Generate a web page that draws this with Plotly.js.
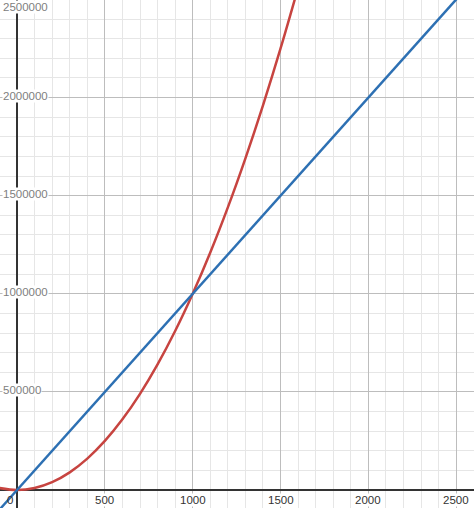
<!DOCTYPE html>
<html>
<head>
<meta charset="utf-8">
<script src="https://cdn.plot.ly/plotly-3.0.1.min.js"></script>
<style>
html,body{margin:0;padding:0;background:#fff;}
#chart{width:474px;height:508px;}
</style>
</head>
<body>
<div id="chart"></div>
<script>
// Red curve (y = x^2) points
var redX = [-100, 0, 100, 200, 300, 400, 500, 600, 700, 800, 900, 1000, 1100, 1200, 1300, 1400, 1500, 1600];
var redY = [10000, 0, 10000, 40000, 90000, 160000, 250000, 360000, 490000, 640000, 810000, 1000000, 1210000, 1440000, 1690000, 1960000, 2250000, 2560000];
// Blue line points
var blueX = [-100, 0, 500, 1000, 1500, 2000, 2500, 2600];
var blueY = [-100000, 0, 500000, 1000000, 1500000, 2000000, 2500000, 2600000];
// Tick labels
var xTickVals = [0, 500, 1000, 1500, 2000, 2500];
var xTickText = ["0", "500", "1000", "1500", "2000", "2500"];
var yTickVals = [500000, 1000000, 1500000, 2000000, 2500000];
var yTickText = ["500000", "1000000", "1500000", "2000000", "2500000"];

var xRange = [-96.8, 2601];
var yRange = [-91700, 2497000];
var H = 508;
var unitsPerPx = (yRange[1] - yRange[0]) / H;

var traces = [
  {x: redX, y: redY, mode: 'lines', line: {color: '#c74440', width: 2.5, shape: 'spline', smoothing: 1}, hoverinfo: 'skip'},
  {x: blueX, y: blueY, mode: 'lines', line: {color: '#2d70b3', width: 2.5}, hoverinfo: 'skip'}
];

var annotations = [];
xTickVals.forEach(function (v, i) {
  var isZero = v === 0;
  annotations.push({
    x: v, xref: 'x', y: 0, yref: 'y',
    text: xTickText[i], showarrow: false,
    xanchor: isZero ? 'right' : 'center', yanchor: 'middle',
    xshift: isZero ? -3 : 0, yshift: -10,
    font: {family: 'Liberation Sans, Arial, sans-serif', size: 11.5, color: '#333'},
    bgcolor: isZero ? 'rgba(0,0,0,0)' : '#fff', borderpad: 0
  });
});
yTickVals.forEach(function (v, i) {
  var yy = Math.min(v, yRange[1] - 9 * unitsPerPx);
  annotations.push({
    x: 0.004, xref: 'paper', y: yy, yref: 'y',
    text: yTickText[i], showarrow: false,
    xanchor: 'left', yanchor: 'middle', yshift: 2,
    font: {family: 'Liberation Sans, Arial, sans-serif', size: 11.5, color: '#808080'},
    bgcolor: '#fff', borderpad: 0
  });
});

var layout = {
  width: 474, height: 508,
  margin: {l: 0, r: 0, t: 0, b: 0, pad: 0},
  paper_bgcolor: '#fff', plot_bgcolor: '#fff',
  showlegend: false,
  xaxis: {
    range: xRange, tick0: 0, dtick: 500,
    showgrid: true, gridcolor: '#bdbdbd', gridwidth: 1,
    minor: {tick0: 0, dtick: 100, showgrid: true, gridcolor: '#e6e6e6', gridwidth: 1},
    zeroline: true, zerolinecolor: '#333', zerolinewidth: 2,
    showticklabels: false, ticks: '', showline: false, fixedrange: true
  },
  yaxis: {
    range: yRange, tick0: 0, dtick: 500000,
    showgrid: true, gridcolor: '#bdbdbd', gridwidth: 1,
    minor: {tick0: 0, dtick: 100000, showgrid: true, gridcolor: '#e6e6e6', gridwidth: 1},
    zeroline: true, zerolinecolor: '#333', zerolinewidth: 2,
    showticklabels: false, ticks: '', showline: false, fixedrange: true
  },
  annotations: annotations
};

Plotly.newPlot('chart', traces, layout, {displayModeBar: false, staticPlot: true});
</script>
</body>
</html>
